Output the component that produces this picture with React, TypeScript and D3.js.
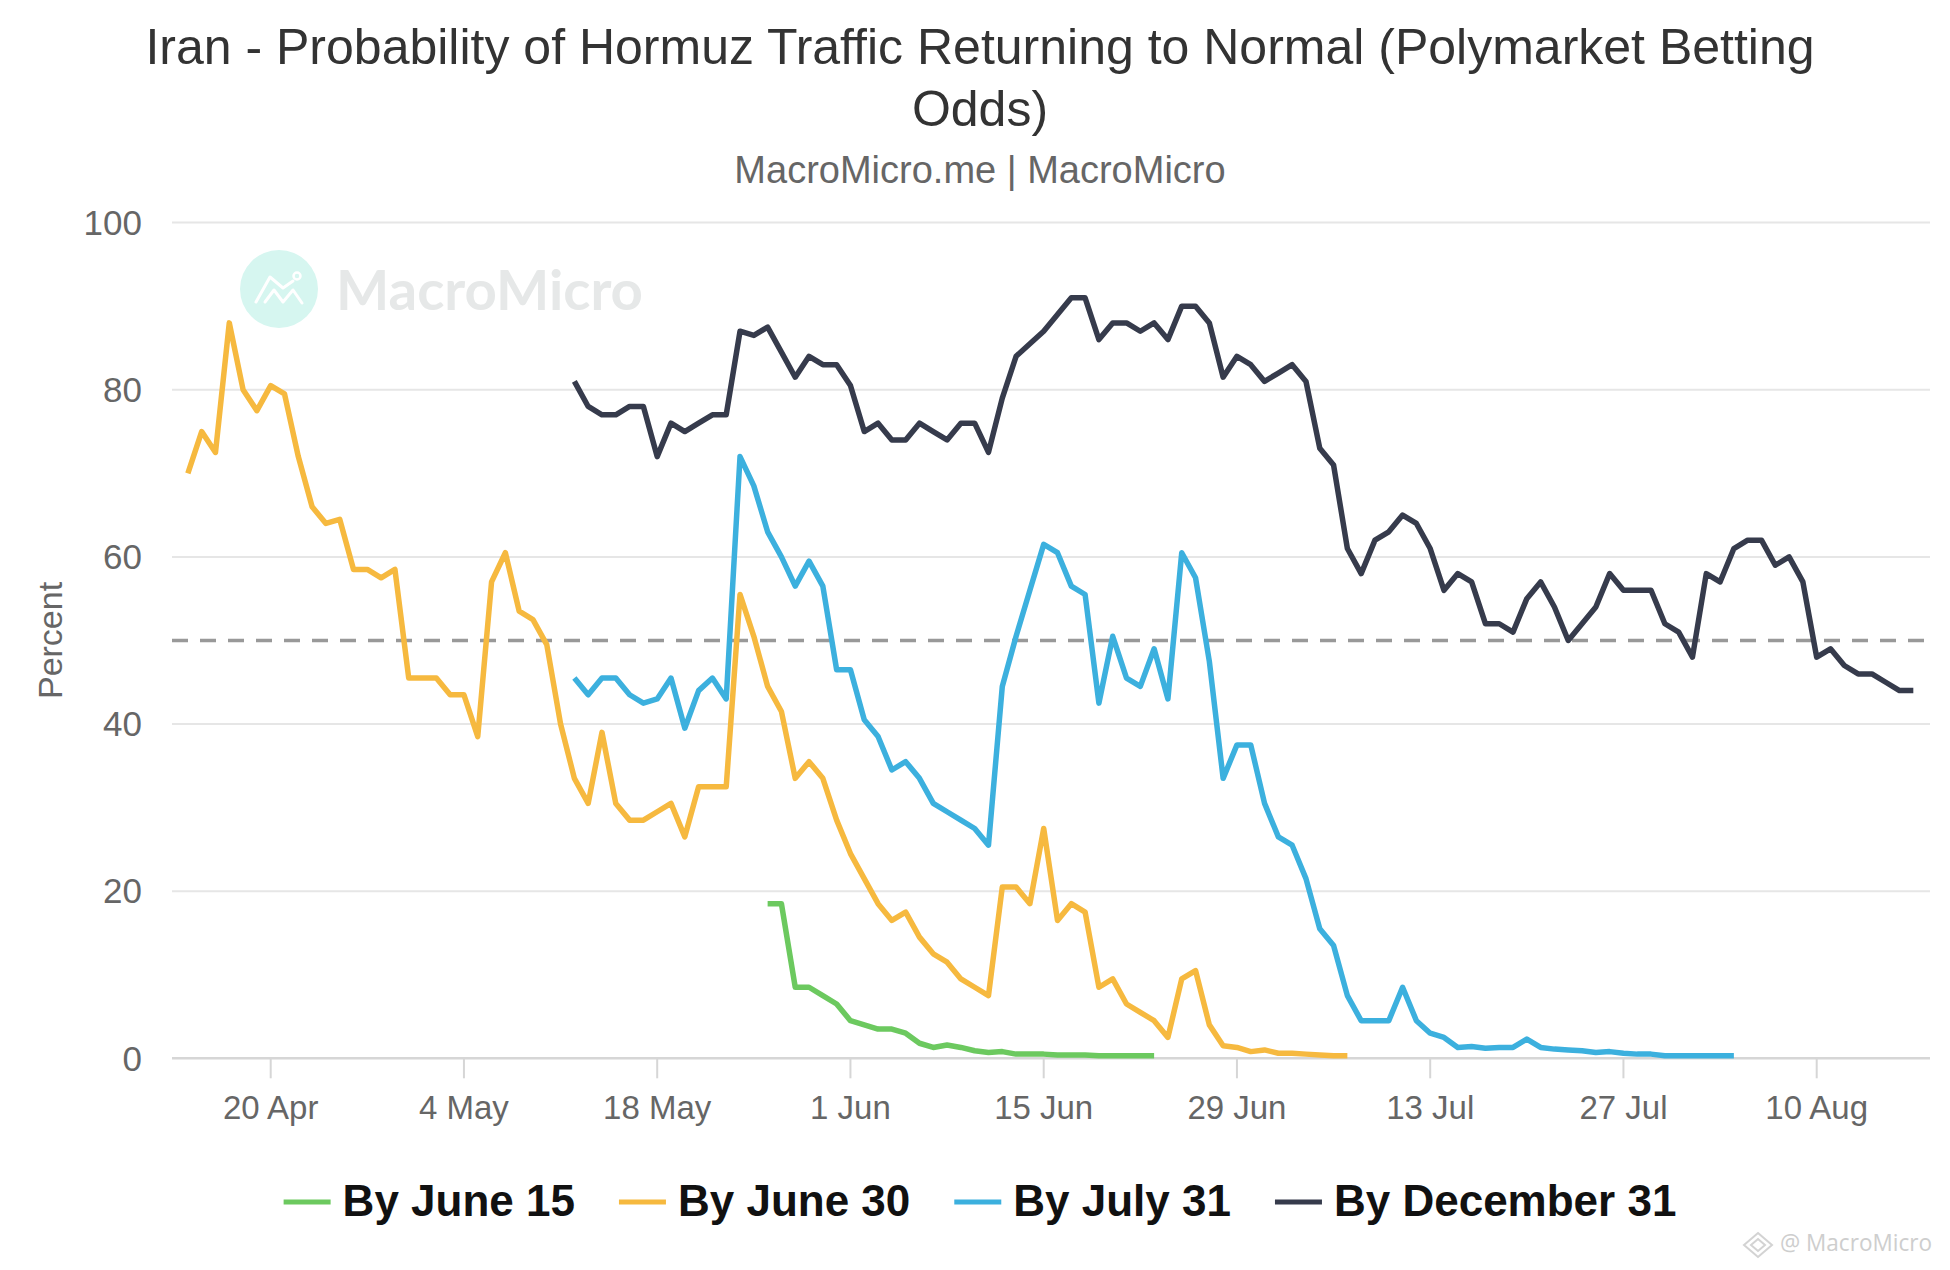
import React, { useMemo } from "react";
import * as d3 from "d3";

// ---------- data ----------
const TITLE_LINES = [
  "Iran - Probability of Hormuz Traffic Returning to Normal (Polymarket Betting",
  "Odds)",
];
const SUBTITLE = "MacroMicro.me | MacroMicro";
const Y_AXIS_TITLE = "Percent";
const Y_TICKS = [0, 20, 40, 60, 80, 100];
const X_TICKS = [
  "2026-04-20", "2026-05-04", "2026-05-18", "2026-06-01", "2026-06-15",
  "2026-06-29", "2026-07-13", "2026-07-27", "2026-08-10",
];
const X_DOMAIN = ["2026-04-12T20:24:00Z", "2026-08-18T05:00:00Z"];
const REFERENCE_LEVEL = 50;

const SERIES_NAMES = ["By June 15", "By June 30", "By July 31", "By December 31"];
const SERIES_COLORS = ["#6cc95f", "#f6b93f", "#3cb0de", "#363b4c"];
const SERIES_START = ["2026-05-26", "2026-04-14", "2026-05-12", "2026-05-12"];

const BY_JUNE_15 = [
  18.5, 18.5, 8.5, 8.5, 7.5, 6.5, 4.5, 4, 3.5, 3.5, 3, 1.8, 1.3, 1.6, 1.3, 0.9,
  0.7, 0.8, 0.5, 0.5, 0.5, 0.4, 0.4, 0.4, 0.3, 0.3, 0.3, 0.3, 0.3,
];
const BY_JUNE_30 = [
  70, 75, 72.5, 88, 80, 77.5, 80.5, 79.5, 72, 66, 64, 64.5, 58.5, 58.5, 57.5,
  58.5, 45.5, 45.5, 45.5, 43.5, 43.5, 38.5, 57, 60.5, 53.5, 52.5, 49.5, 40,
  33.5, 30.5, 39, 30.5, 28.5, 28.5, 29.5, 30.5, 26.5, 32.5, 32.5, 32.5, 55.5,
  50.5, 44.5, 41.5, 33.5, 35.5, 33.5, 28.5, 24.5, 21.5, 18.5, 16.5, 17.5, 14.5,
  12.5, 11.5, 9.5, 8.5, 7.5, 20.5, 20.5, 18.5, 27.5, 16.5, 18.5, 17.5, 8.5, 9.5,
  6.5, 5.5, 4.5, 2.5, 9.5, 10.5, 4, 1.5, 1.3, 0.8, 1.0, 0.6, 0.6, 0.5, 0.4, 0.3,
  0.3,
];
const BY_JULY_31 = [
  45.5, 43.5, 45.5, 45.5, 43.5, 42.5, 43, 45.5, 39.5, 44, 45.5, 43, 72, 68.5,
  63, 60, 56.5, 59.5, 56.5, 46.5, 46.5, 40.5, 38.5, 34.5, 35.5, 33.5, 30.5, 29.5,
  28.5, 27.5, 25.5, 44.5, 50.5, 56, 61.5, 60.5, 56.5, 55.5, 42.5, 50.5, 45.5,
  44.5, 49, 43, 60.5, 57.5, 47.5, 33.5, 37.5, 37.5, 30.5, 26.5, 25.5, 21.5,
  15.5, 13.5, 7.5, 4.5, 4.5, 4.5, 8.5, 4.5, 3, 2.5, 1.3, 1.4, 1.2, 1.3, 1.3, 2.3,
  1.3, 1.1, 1.0, 0.9, 0.7, 0.8, 0.6, 0.5, 0.5, 0.3, 0.3, 0.3, 0.3, 0.3, 0.3,
];
const BY_DECEMBER_31 = [
  81, 78, 77, 77, 78, 78, 72, 76, 75, 76, 77, 77, 87, 86.5, 87.5, 84.5, 81.5,
  84, 83, 83, 80.5, 75, 76, 74, 74, 76, 75, 74, 76, 76, 72.5, 79, 84, 85.5, 87,
  89, 91, 91, 86, 88, 88, 87, 88, 86, 90, 90, 88, 81.5, 84, 83, 81, 82, 83, 81,
  73, 71, 61, 58, 62, 63, 65, 64, 61, 56, 58, 57, 52, 52, 51, 55, 57, 54, 50,
  52, 54, 58, 56, 56, 56, 52, 51, 48, 58, 57, 61, 62, 62, 59, 60, 57, 48, 49,
  47, 46, 46, 45, 44, 44,
];
const SERIES_VALUES = [BY_JUNE_15, BY_JUNE_30, BY_JULY_31, BY_DECEMBER_31];

// ---------- helpers ----------
const FONT = '"Liberation Sans", Arial, Helvetica, sans-serif';
const DAY = 86400000;
const toDate = (s: string) => new Date(s.length === 10 ? s + "T00:00:00Z" : s);

function buildSeries(start: string, values: number[]) {
  const t0 = toDate(start).getTime();
  return values.map((v, i) => ({ date: new Date(t0 + i * DAY), value: v }));
}

function measure(text: string, font: string) {
  const c = document.createElement("canvas").getContext("2d");
  if (!c) return text.length * 22;
  c.font = font;
  return c.measureText(text).width;
}

export default function App() {
  const W = 1950;
  const H = 1270;
  const plot = { left: 172, right: 1930, top: 222.6, bottom: 1058.3 };
  const centerX = 980;

  const x = d3
    .scaleUtc()
    .domain([toDate(X_DOMAIN[0]), toDate(X_DOMAIN[1])])
    .range([plot.left, plot.right]);
  const y = d3.scaleLinear().domain([0, 100]).range([plot.bottom, plot.top]);

  const line = d3
    .line<{ date: Date; value: number }>()
    .x((d) => x(d.date))
    .y((d) => y(d.value));

  const series = SERIES_NAMES.map((name, i) => ({
    name,
    color: SERIES_COLORS[i],
    data: buildSeries(SERIES_START[i], SERIES_VALUES[i]),
  }));

  const fmt = d3.utcFormat("%-d %b");

  const legendFont = `bold 44px ${FONT}`;
  const legendLayout = useMemo(() => {
    const symbolW = 47;
    const textOffset = 59;
    const gap = 44;
    const widths = SERIES_NAMES.map((n) => textOffset + measure(n, legendFont));
    const total = d3.sum(widths) + gap * (widths.length - 1);
    let cursor = centerX - total / 2;
    return SERIES_NAMES.map((n, i) => {
      const item = { x: cursor, symbolW, textX: cursor + textOffset };
      cursor += widths[i] + gap;
      return item;
    });
  }, []);

  return (
    <div style={{ position: "absolute", left: 0, top: 0 }}>
      <style>{`body{margin:0}`}</style>
      <svg width={W} height={H} viewBox={`0 0 ${W} ${H}`} style={{ display: "block", background: "#fff" }}>
        <rect x={0} y={0} width={W} height={H} fill="#ffffff" />

        {/* title */}
        <text x={centerX} y={64} textAnchor="middle" fontFamily={FONT} fontSize={50} fill="#333333">
          {TITLE_LINES[0]}
        </text>
        <text x={centerX} y={126} textAnchor="middle" fontFamily={FONT} fontSize={50} fill="#333333">
          {TITLE_LINES[1]}
        </text>
        <text x={centerX} y={183} textAnchor="middle" fontFamily={FONT} fontSize={38} fill="#666666">
          {SUBTITLE}
        </text>

        {/* watermark */}
        <g>
          <circle cx={279} cy={289} r={39} fill="#d6f6f0" />
          <polyline
            points="256,302 270,277 283,288 293,281"
            fill="none"
            stroke="#ffffff"
            strokeWidth={3}
            strokeLinejoin="round"
            strokeLinecap="round"
          />
          <circle cx={297} cy={276} r={3.5} fill="none" stroke="#ffffff" strokeWidth={2.5} />
          <polyline
            points="265,302 274,290 283,302 293,290 302,303"
            fill="none"
            stroke="#ffffff"
            strokeWidth={3}
            strokeLinejoin="round"
            strokeLinecap="round"
          />
          <text
            x={336}
            y={310}
            fontFamily='"Lato", "Open Sans", sans-serif'
            fontWeight={700}
            fontSize={56}
            fill="#e6e8e8"
            textLength={307}
            lengthAdjust="spacingAndGlyphs"
          >
            MacroMicro
          </text>
        </g>

        {/* grid */}
        {Y_TICKS.filter((t) => t !== 0).map((t) => (
          <line key={t} x1={plot.left} x2={plot.right} y1={y(t)} y2={y(t)} stroke="#e6e6e6" strokeWidth={2} />
        ))}
        {/* y labels */}
        {Y_TICKS.map((t) => (
          <text
            key={"yl" + t}
            x={142}
            y={y(t)}
            dy="0.35em"
            textAnchor="end"
            fontFamily={FONT}
            fontSize={35}
            fill="#666666"
          >
            {t}
          </text>
        ))}
        <text
          transform={`translate(62,${(plot.top + plot.bottom) / 2}) rotate(-90)`}
          textAnchor="middle"
          fontFamily={FONT}
          fontSize={34}
          fill="#666666"
        >
          {Y_AXIS_TITLE}
        </text>

        {/* x axis */}
        <line x1={plot.left} x2={plot.right} y1={plot.bottom} y2={plot.bottom} stroke="#d6d6d6" strokeWidth={2.5} />
        {X_TICKS.map((s) => {
          const d = toDate(s);
          const px = x(d);
          return (
            <g key={s}>
              <line x1={px} x2={px} y1={plot.bottom} y2={plot.bottom + 20} stroke="#d6d6d6" strokeWidth={2} />
              <text x={px} y={1119} textAnchor="middle" fontFamily={FONT} fontSize={33} fill="#666666">
                {fmt(d)}
              </text>
            </g>
          );
        })}

        {/* reference line */}
        <line
          x1={plot.left}
          x2={plot.right}
          y1={y(REFERENCE_LEVEL)}
          y2={y(REFERENCE_LEVEL)}
          stroke="#999999"
          strokeWidth={3.5}
          strokeDasharray="16 12"
        />

        {/* series */}
        {series.map((s) => (
          <path
            key={s.name}
            d={line(s.data) || ""}
            fill="none"
            stroke={s.color}
            strokeWidth={5.5}
            strokeLinejoin="round"
            strokeLinecap="butt"
          />
        ))}

        {/* legend */}
        {series.map((s, i) => {
          const L = legendLayout[i];
          return (
            <g key={"lg" + s.name}>
              <line x1={L.x} x2={L.x + L.symbolW} y1={1202} y2={1202} stroke={s.color} strokeWidth={5} />
              <text x={L.textX} y={1216} fontFamily={FONT} fontWeight={700} fontSize={44} fill="#111111">
                {s.name}
              </text>
            </g>
          );
        })}

        {/* bottom-right credit */}
        <g opacity={0.9}>
          <path
            d="M1758,1233 L1772,1245 L1758,1257 L1744,1245 Z M1758,1239 L1765,1245 L1758,1251 L1751,1245 Z"
            fill="none"
            stroke="#cfcfcf"
            strokeWidth={2}
          />
          <text
            x={1780}
            y={1251}
            fontFamily='"Open Sans", sans-serif'
            fontSize={24}
            fill="#c9c9c9"
            textLength={152}
            lengthAdjust="spacingAndGlyphs"
          >
            @ MacroMicro
          </text>
        </g>
      </svg>
    </div>
  );
}
